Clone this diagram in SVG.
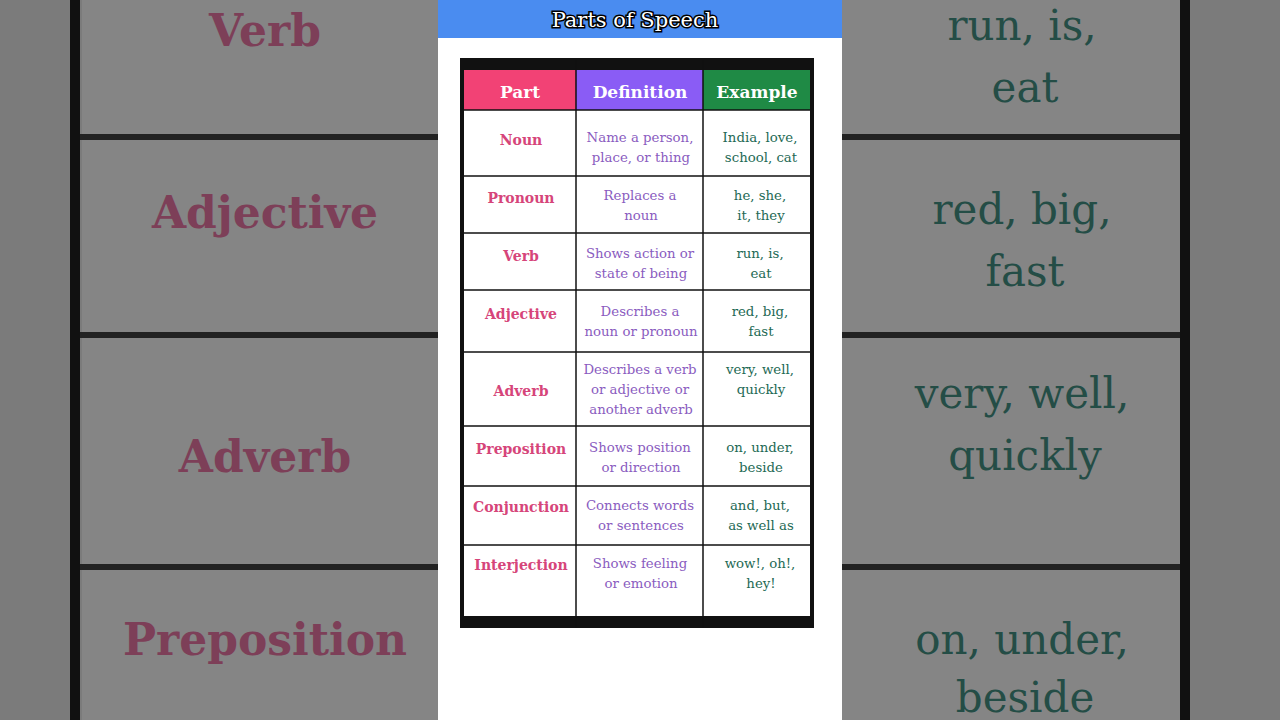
<svg xmlns="http://www.w3.org/2000/svg" width="1280" height="720" viewBox="0 0 1280 720">
<style>
.bgp{font-family:"DejaVu Serif","Liberation Serif",serif;font-size:44px;fill:#7d3f58;text-anchor:middle;font-weight:bold}
.bge{font-family:"DejaVu Serif","Liberation Serif",serif;font-size:42px;fill:#244d46;text-anchor:middle}
.h{font-family:"DejaVu Serif","Liberation Serif",serif;font-size:17px;font-weight:bold;fill:#fff;text-anchor:middle}
.p{font-family:"DejaVu Serif","Liberation Serif",serif;font-size:14px;font-weight:bold;fill:#d6457a;text-anchor:middle}
.d{font-family:"DejaVu Serif","Liberation Serif",serif;font-size:13.3px;fill:#8a5cc0;text-anchor:middle}
.e{font-family:"DejaVu Serif","Liberation Serif",serif;font-size:13.3px;fill:#1e6a55;text-anchor:middle}
.g{stroke:#111;stroke-width:1.5}
</style>
<rect width="1280" height="720" fill="#7b7b7b"/>
<g id="bg-left">
<rect x="82" y="0" width="356" height="720" fill="#858585"/>
<rect x="70" y="0" width="10" height="720" fill="#111"/>
<rect x="80" y="134" width="358" height="6" fill="#222"/>
<rect x="80" y="332" width="358" height="6" fill="#222"/>
<rect x="80" y="564" width="358" height="6" fill="#222"/>
<text class="bgp" x="265" y="46">Verb</text>
<text class="bgp" x="265" y="228">Adjective</text>
<text class="bgp" x="265" y="472">Adverb</text>
<text class="bgp" x="265" y="655">Preposition</text>
</g>
<g id="bg-right">
<rect x="842" y="0" width="338" height="720" fill="#858585"/>
<rect x="1180" y="0" width="10" height="720" fill="#111"/>
<rect x="842" y="134" width="338" height="6" fill="#222"/>
<rect x="842" y="332" width="338" height="6" fill="#222"/>
<rect x="842" y="564" width="338" height="6" fill="#222"/>
<text class="bge" x="1022" y="40">run, is,</text>
<text class="bge" x="1025" y="102">eat</text>
<text class="bge" x="1022" y="224">red, big,</text>
<text class="bge" x="1025" y="286">fast</text>
<text class="bge" x="1022" y="408">very, well,</text>
<text class="bge" x="1025" y="470">quickly</text>
<text class="bge" x="1022" y="654">on, under,</text>
<text class="bge" x="1025" y="712">beside</text>
</g>
<g id="panel">
<rect x="438" y="0" width="404" height="720" fill="#fff"/>
<rect x="438" y="0" width="404" height="38" fill="#4a8cf0"/>
<text x="635" y="27" font-family="DejaVu Serif,serif" font-size="21" fill="#fff" stroke="#000" stroke-width="3" paint-order="stroke" text-anchor="middle">Parts of Speech</text>
</g>
<g id="table">
<rect x="460" y="58" width="354" height="570" fill="#111"/>
<rect x="464" y="70" width="346" height="546" fill="#fff"/>
<rect x="464" y="70" width="112" height="40" fill="#f24275"/>
<rect x="576" y="70" width="127" height="40" fill="#8a5cf5"/>
<rect x="703" y="70" width="107" height="40" fill="#1f8a45"/>
<text class="h" x="520" y="98">Part</text>
<text class="h" x="640" y="98">Definition</text>
<text class="h" x="757" y="98">Example</text>
<g class="g">
<line x1="576" y1="60" x2="576" y2="628"/>
<line x1="703" y1="60" x2="703" y2="628"/>
<line x1="464" y1="110" x2="810" y2="110"/>
<line x1="464" y1="176" x2="810" y2="176"/>
<line x1="464" y1="233" x2="810" y2="233"/>
<line x1="464" y1="290" x2="810" y2="290"/>
<line x1="464" y1="352" x2="810" y2="352"/>
<line x1="464" y1="426" x2="810" y2="426"/>
<line x1="464" y1="486" x2="810" y2="486"/>
<line x1="464" y1="545" x2="810" y2="545"/>
</g>
<g id="r1"><text class="p" x="521" y="145">Noun</text><text class="d" x="640" y="142">Name a person,</text><text class="d" x="641" y="162">place, or thing</text><text class="e" x="760" y="142">India, love,</text><text class="e" x="761" y="162">school, cat</text></g>
<g id="r2"><text class="p" x="521" y="203">Pronoun</text><text class="d" x="640" y="200">Replaces a</text><text class="d" x="641" y="220">noun</text><text class="e" x="760" y="200">he, she,</text><text class="e" x="761" y="220">it, they</text></g>
<g id="r3"><text class="p" x="521" y="261">Verb</text><text class="d" x="640" y="258">Shows action or</text><text class="d" x="641" y="278">state of being</text><text class="e" x="760" y="258">run, is,</text><text class="e" x="761" y="278">eat</text></g>
<g id="r4"><text class="p" x="521" y="319">Adjective</text><text class="d" x="640" y="316">Describes a</text><text class="d" x="641" y="336">noun or pronoun</text><text class="e" x="760" y="316">red, big,</text><text class="e" x="761" y="336">fast</text></g>
<g id="r5"><text class="p" x="521" y="396">Adverb</text><text class="d" x="640" y="374">Describes a verb</text><text class="d" x="640" y="394">or adjective or</text><text class="d" x="641" y="414">another adverb</text><text class="e" x="760" y="374">very, well,</text><text class="e" x="761" y="394">quickly</text></g>
<g id="r6"><text class="p" x="521" y="454">Preposition</text><text class="d" x="640" y="452">Shows position</text><text class="d" x="641" y="472">or direction</text><text class="e" x="760" y="452">on, under,</text><text class="e" x="761" y="472">beside</text></g>
<g id="r7"><text class="p" x="521" y="512">Conjunction</text><text class="d" x="640" y="510">Connects words</text><text class="d" x="641" y="530">or sentences</text><text class="e" x="760" y="510">and, but,</text><text class="e" x="761" y="530">as well as</text></g>
<g id="r8"><text class="p" x="521" y="570">Interjection</text><text class="d" x="640" y="568">Shows feeling</text><text class="d" x="641" y="588">or emotion</text><text class="e" x="760" y="568">wow!, oh!,</text><text class="e" x="761" y="588">hey!</text></g>
</g>
</svg>
